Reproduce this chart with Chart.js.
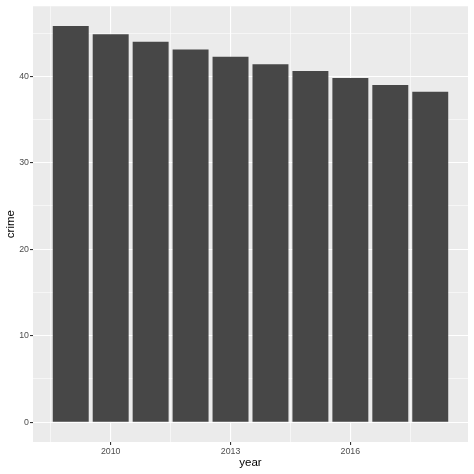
<!DOCTYPE html>
<html>
<head>
<meta charset="utf-8">
<script src="https://cdn.jsdelivr.net/npm/chart.js@4"></script>
<style>
html,body{margin:0;padding:0;background:#fff;}
#wrap{width:474px;height:474px;}
</style>
</head>
<body>
<div id="wrap"><canvas id="c" width="474" height="474"></canvas></div>
<script>
const years = [2009, 2010, 2011, 2012, 2013, 2014, 2015, 2016, 2017, 2018];
const crime = [45.8, 44.85, 44.0, 43.1, 42.25, 41.4, 40.6, 39.8, 39.0, 38.2];
const xMajor = [2010, 2013, 2016];
const xMinor = [2008.5, 2011.5, 2014.5, 2017.5];
const yMajor = [0, 10, 20, 30, 40];
const yMinor = [5, 15, 25, 35, 45];

const xMin = 2008.055, xMax = 2018.945;
const yMin = -2.29, yMax = 48.09;

const panelBg = {
  id: 'panelBg',
  beforeDraw(chart) {
    const {ctx, chartArea: a} = chart;
    ctx.save();
    ctx.fillStyle = '#EBEBEB';
    ctx.fillRect(a.left, a.top, a.right - a.left, a.bottom - a.top);
    ctx.restore();
  }
};

function isMajor(list, c) {
  const v = (c && c.tick) ? c.tick.value : (typeof c === 'number' ? c : NaN);
  return list.indexOf(v) >= 0;
}

const font = 'Liberation Sans, Arial, Helvetica, sans-serif';

new Chart(document.getElementById('c'), {
  type: 'bar',
  data: {
    datasets: [{
      data: years.map((y, i) => ({x: y, y: crime[i]})),
      backgroundColor: '#474747',
      borderWidth: 0,
      barPercentage: 0.9,
      categoryPercentage: 1.0
    }]
  },
  options: {
    responsive: false,
    animation: false,
    devicePixelRatio: 1,
    layout: {padding: {top: 5, right: 6, left: 0, bottom: 0}},
    plugins: {legend: {display: false}, tooltip: {enabled: false}},
    scales: {
      x: {
        type: 'linear',
        offset: false,
        min: xMin, max: xMax,
        afterBuildTicks(s) {
          s.ticks = xMinor.concat(xMajor).sort((a, b) => a - b).map(v => ({value: v}));
        },
        afterFit(s) { s.height = 32; },
        border: {display: false},
        grid: {
          offset: false,
          color: '#FFFFFF',
          lineWidth: c => isMajor(xMajor, c) ? 1.1 : 0.55,
          drawTicks: true,
          tickLength: 3,
          tickColor: c => isMajor(xMajor, c) ? '#333333' : 'rgba(0,0,0,0)',
          tickWidth: 1.1
        },
        ticks: {
          autoSkip: false,
          maxRotation: 0,
          padding: 1,
          color: '#4D4D4D',
          font: {family: font, size: 8.8},
          callback: v => isMajor(xMajor, v) ? String(v) : ''
        },
        title: {
          display: true,
          text: 'year',
          color: '#000000',
          font: {family: font, size: 11.5},
          padding: {top: 4, bottom: 4}
        }
      },
      y: {
        type: 'linear',
        min: yMin, max: yMax,
        afterBuildTicks(s) {
          s.ticks = yMinor.concat(yMajor).sort((a, b) => a - b).map(v => ({value: v}));
        },
        afterFit(s) { s.width = 33; },
        border: {display: false},
        grid: {
          color: '#FFFFFF',
          lineWidth: c => isMajor(yMajor, c) ? 1.1 : 0.55,
          drawTicks: true,
          tickLength: 3,
          tickColor: c => isMajor(yMajor, c) ? '#333333' : 'rgba(0,0,0,0)',
          tickWidth: 1.1
        },
        ticks: {
          autoSkip: false,
          padding: 1,
          color: '#4D4D4D',
          font: {family: font, size: 8.8},
          callback: v => isMajor(yMajor, v) ? String(v) : ''
        },
        title: {
          display: true,
          text: 'crime',
          color: '#000000',
          font: {family: font, size: 11.5},
          padding: {top: 4, bottom: 4}
        }
      }
    }
  },
  plugins: [panelBg]
});
</script>
</body>
</html>
